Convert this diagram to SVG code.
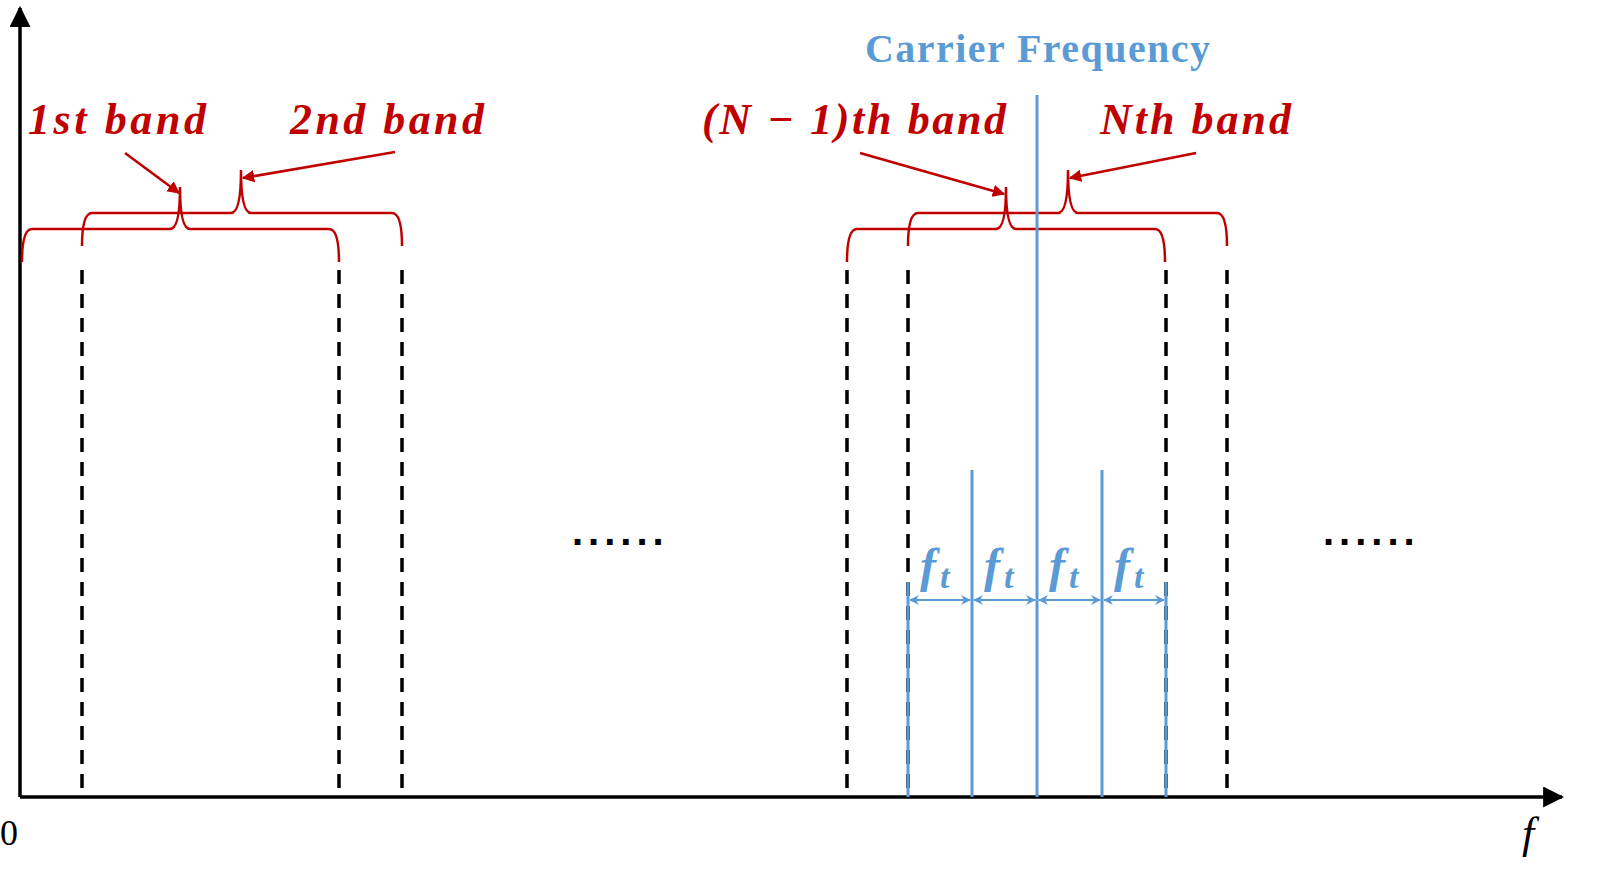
<svg xmlns="http://www.w3.org/2000/svg" width="1600" height="876" viewBox="0 0 1600 876">
<defs>
<style>
.red{fill:none;stroke:#c00000;stroke-width:2.5}
.dash{stroke:#000;stroke-width:3.5;stroke-dasharray:14,10}
.blue{stroke:#5b9bd5;stroke-width:3}
.lbl{font-family:"Liberation Serif",serif;font-weight:bold;font-style:italic;font-size:44px;fill:#c00000;letter-spacing:2px}
.ft{font-family:"Liberation Serif",serif;font-style:italic;font-weight:bold;font-size:48px;fill:#5b9bd5}
</style>
<marker id="ar" viewBox="0 0 10 10" refX="9" refY="5" markerWidth="5" markerHeight="5" orient="auto"><path d="M0,0L10,5L0,10z" fill="#c00000"/></marker>
<marker id="ab" viewBox="0 0 10 10" refX="9" refY="5" markerWidth="5" markerHeight="5" orient="auto-start-reverse"><path d="M0,0L10,5L0,10L3,5z" fill="#5b9bd5"/></marker>
<marker id="ak" viewBox="0 0 10 10" refX="9" refY="5" markerWidth="6" markerHeight="6" orient="auto"><path d="M0,0L10,5L0,10z" fill="#000"/></marker>
</defs>
<rect width="1600" height="876" fill="#fff"/>
<g id="axes" stroke="#000" stroke-width="3.5" fill="none">
<line x1="20" y1="797" x2="20" y2="8" marker-end="url(#ak)"/>
<line x1="20" y1="797" x2="1562" y2="797" marker-end="url(#ak)"/>
</g>
<text x="0" y="845" font-family="Liberation Serif,serif" font-size="36">0</text>
<text x="1522" y="848" font-family="Liberation Serif,serif" font-style="italic" font-size="44">f</text>
<g id="dashes">
<line class="dash" x1="82" y1="270" x2="82" y2="797"/>
<line class="dash" x1="339" y1="270" x2="339" y2="797"/>
<line class="dash" x1="402" y1="270" x2="402" y2="797"/>
<line class="dash" x1="847" y1="270" x2="847" y2="797"/>
<line class="dash" x1="908" y1="270" x2="908" y2="797"/>
<line class="dash" x1="1166" y1="270" x2="1166" y2="797"/>
<line class="dash" x1="1227" y1="270" x2="1227" y2="797"/>
</g>
<g id="braces">
<path class="red" d="M22,262 Q22,229 32,229 L170,229 Q180,229 180,187 Q180,229 190,229 L329,229 Q339,229 339,262"/>
<path class="red" d="M82,246 Q82,213 92,213 L231,213 Q241,213 241,170 Q241,213 251,213 L392,213 Q402,213 402,246"/>
<path class="red" d="M847,262 Q847,229 857,229 L996,229 Q1006,229 1006,187 Q1006,229 1016,229 L1155,229 Q1165,229 1165,262"/>
<path class="red" d="M908,246 Q908,213 918,213 L1058,213 Q1068,213 1068,170 Q1068,213 1078,213 L1217,213 Q1227,213 1227,246"/>
</g>
<g id="connectors">
<line class="red" x1="125" y1="153" x2="179" y2="193" marker-end="url(#ar)"/>
<line class="red" x1="395" y1="152" x2="243" y2="178" marker-end="url(#ar)"/>
<line class="red" x1="860" y1="153" x2="1004" y2="194" marker-end="url(#ar)"/>
<line class="red" x1="1196" y1="153" x2="1070" y2="178" marker-end="url(#ar)"/>
</g>
<g id="labels">
<text class="lbl" x="28" y="134" textLength="180">1st band</text>
<text class="lbl" x="290" y="134" textLength="196">2nd band</text>
<text class="lbl" x="702" y="134" font-style="normal" textLength="306">(<tspan font-style="italic">N</tspan> − 1)<tspan font-style="italic">th band</tspan></text>
<text class="lbl" x="1100" y="134" textLength="193">Nth band</text>
<text x="865" y="62" font-family="Liberation Serif,serif" font-weight="bold" font-size="40" fill="#5b9bd5" textLength="345">Carrier Frequency</text>
</g>
<g id="carrier">
<line class="blue" x1="1037" y1="95" x2="1037" y2="797"/>
<line class="blue" x1="972" y1="470" x2="972" y2="797"/>
<line class="blue" x1="1102" y1="470" x2="1102" y2="797"/>
<line class="blue" x1="908" y1="582" x2="908" y2="797"/>
<line class="blue" x1="1166" y1="582" x2="1166" y2="797"/>
<g stroke="#5b9bd5" stroke-width="2">
<line x1="910" y1="600" x2="970" y2="600" marker-start="url(#ab)" marker-end="url(#ab)"/>
<line x1="974" y1="600" x2="1035" y2="600" marker-start="url(#ab)" marker-end="url(#ab)"/>
<line x1="1039" y1="600" x2="1100" y2="600" marker-start="url(#ab)" marker-end="url(#ab)"/>
<line x1="1104" y1="600" x2="1164" y2="600" marker-start="url(#ab)" marker-end="url(#ab)"/>
</g>
<text class="ft" x="920" y="582">f<tspan font-size="34" dx="4" dy="6">t</tspan></text>
<text class="ft" x="984" y="582">f<tspan font-size="34" dx="4" dy="6">t</tspan></text>
<text class="ft" x="1049" y="582">f<tspan font-size="34" dx="4" dy="6">t</tspan></text>
<text class="ft" x="1114" y="582">f<tspan font-size="34" dx="4" dy="6">t</tspan></text>
</g>
<g id="ellipses" font-family="Liberation Sans,sans-serif" font-size="40" font-weight="bold" fill="#000" letter-spacing="5">
<text x="572" y="545">......</text>
<text x="1323" y="545">......</text>
</g>
</svg>
